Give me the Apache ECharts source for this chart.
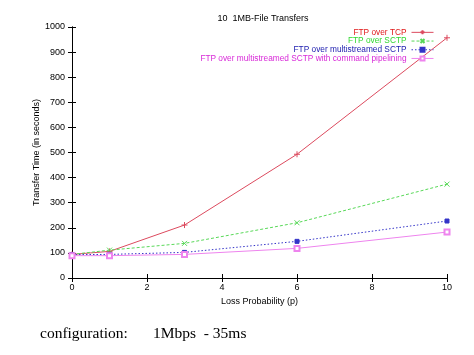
<!DOCTYPE html>
<html>
<head>
<meta charset="utf-8">
<script src="https://cdn.jsdelivr.net/npm/echarts@6/dist/echarts.min.js"></script>
<style>
  html, body { margin: 0; padding: 0; background: #fff; }
  #chart { width: 474px; height: 355px; }
</style>
</head>
<body>
<div id="chart"></div>
<script>
const lossProb = [0, 1, 3, 6, 10];
const ftpTcp = [94, 106, 211, 493, 957];
const ftpSctp = [94, 111, 138, 220, 374];
const ftpMulti = [93, 94, 102, 146, 227];
const ftpPipe = [89, 89, 94, 118, 183];
const seriesNames = [
  "FTP over TCP",
  "FTP over SCTP",
  "FTP over multistreamed SCTP",
  "FTP over multistreamed SCTP with command pipelining",
];

const font = "Liberation Sans";
const pairs = (ys) => lossProb.map((x, i) => [x, ys[i]]);

const chart = echarts.init(document.getElementById("chart"));

const mkSeries = (name, ys, color, lineType, symbol, size) => ({
  name,
  type: "line",
  data: pairs(ys),
  symbol,
  symbolSize: size,
  showAllSymbol: true,
  lineStyle: { color, width: 1, type: lineType },
  itemStyle: { color, borderColor: color, borderWidth: 1 },
  emphasis: { disabled: true },
});

const plusPath = "path://M5,0L5,10M0,5L10,5";
const crossPath = "path://M0,0L10,10M10,0L0,10";

// gnuplot style: ticks inside, mirrored on top/right
const boxAxis = {
  axisLine: { show: true, lineStyle: { color: "#000", width: 1 } },
  axisTick: { show: true, inside: true, length: 4, lineStyle: { color: "#000" } },
  splitLine: { show: false },
};

chart.setOption({
  animation: false,
  title: {
    text: "10  1MB-File Transfers",
    left: 258,
    top: 9,
    textAlign: "center",
    textStyle: { fontFamily: font, fontSize: 9, fontWeight: "normal", color: "#000" },
  },
  legend: {
    orient: "vertical",
    right: 40,
    top: 28,
    padding: 0,
    align: "right",
    itemWidth: 22,
    itemHeight: 5,
    itemGap: 0,
    lineStyle: { width: 1 },
    data: [
      { name: seriesNames[0], textStyle: { color: "#e01818" } },
      { name: seriesNames[1], textStyle: { color: "#30d830" } },
      { name: seriesNames[2], textStyle: { color: "#2020b0" } },
      { name: seriesNames[3], textStyle: { color: "#d828d8" } },
    ],
    textStyle: { fontFamily: font, fontSize: 8.3, lineHeight: 8.7 },
    selectedMode: false,
  },
  grid: { left: 72, right: 27, top: 27, bottom: 77 },
  xAxis: [
    Object.assign({
      type: "value",
      min: 0,
      max: 10,
      interval: 2,
      name: "Loss Probability (p)",
      nameLocation: "middle",
      nameGap: 17,
      nameTextStyle: { fontFamily: font, fontSize: 9, color: "#000" },
      axisLabel: { fontFamily: font, fontSize: 9, color: "#000", margin: 5 },
    }, boxAxis),
    Object.assign({
      type: "value",
      position: "top",
      min: 0,
      max: 10,
      interval: 2,
      axisLabel: { show: false },
    }, boxAxis),
  ],
  yAxis: [
    Object.assign({
      type: "value",
      min: 0,
      max: 1000,
      interval: 100,
      name: "Transfer Time (in seconds)",
      nameLocation: "middle",
      nameGap: 31,
      nameMoveOverlap: false,
      nameTextStyle: { fontFamily: font, fontSize: 9, color: "#000" },
      axisLabel: { fontFamily: font, fontSize: 9, color: "#000", margin: 7, formatter: (v) => String(v) },
    }, boxAxis),
    Object.assign({
      type: "value",
      position: "right",
      min: 0,
      max: 1000,
      interval: 100,
      axisLabel: { show: false },
    }, boxAxis),
  ],
  series: [
    mkSeries(seriesNames[0], ftpTcp, "#dc4a5e", "solid", plusPath, 6),
    mkSeries(seriesNames[1], ftpSctp, "#58d858", [3, 2], crossPath, 5),
    mkSeries(seriesNames[2], ftpMulti, "#3434c8", [1.5, 2], "rect", 4),
    mkSeries(seriesNames[3], ftpPipe, "#ee84ee", "solid", "emptyRect", 5),
  ],
  graphic: [
    {
      type: "text",
      left: 40,
      top: 326,
      style: { text: "configuration:", font: "15.5px 'Liberation Serif'", fill: "#000" },
    },
    {
      type: "text",
      left: 153,
      top: 326,
      style: { text: "1Mbps  - 35ms", font: "15.5px 'Liberation Serif'", fill: "#000" },
    },
  ],
});
</script>
</body>
</html>
